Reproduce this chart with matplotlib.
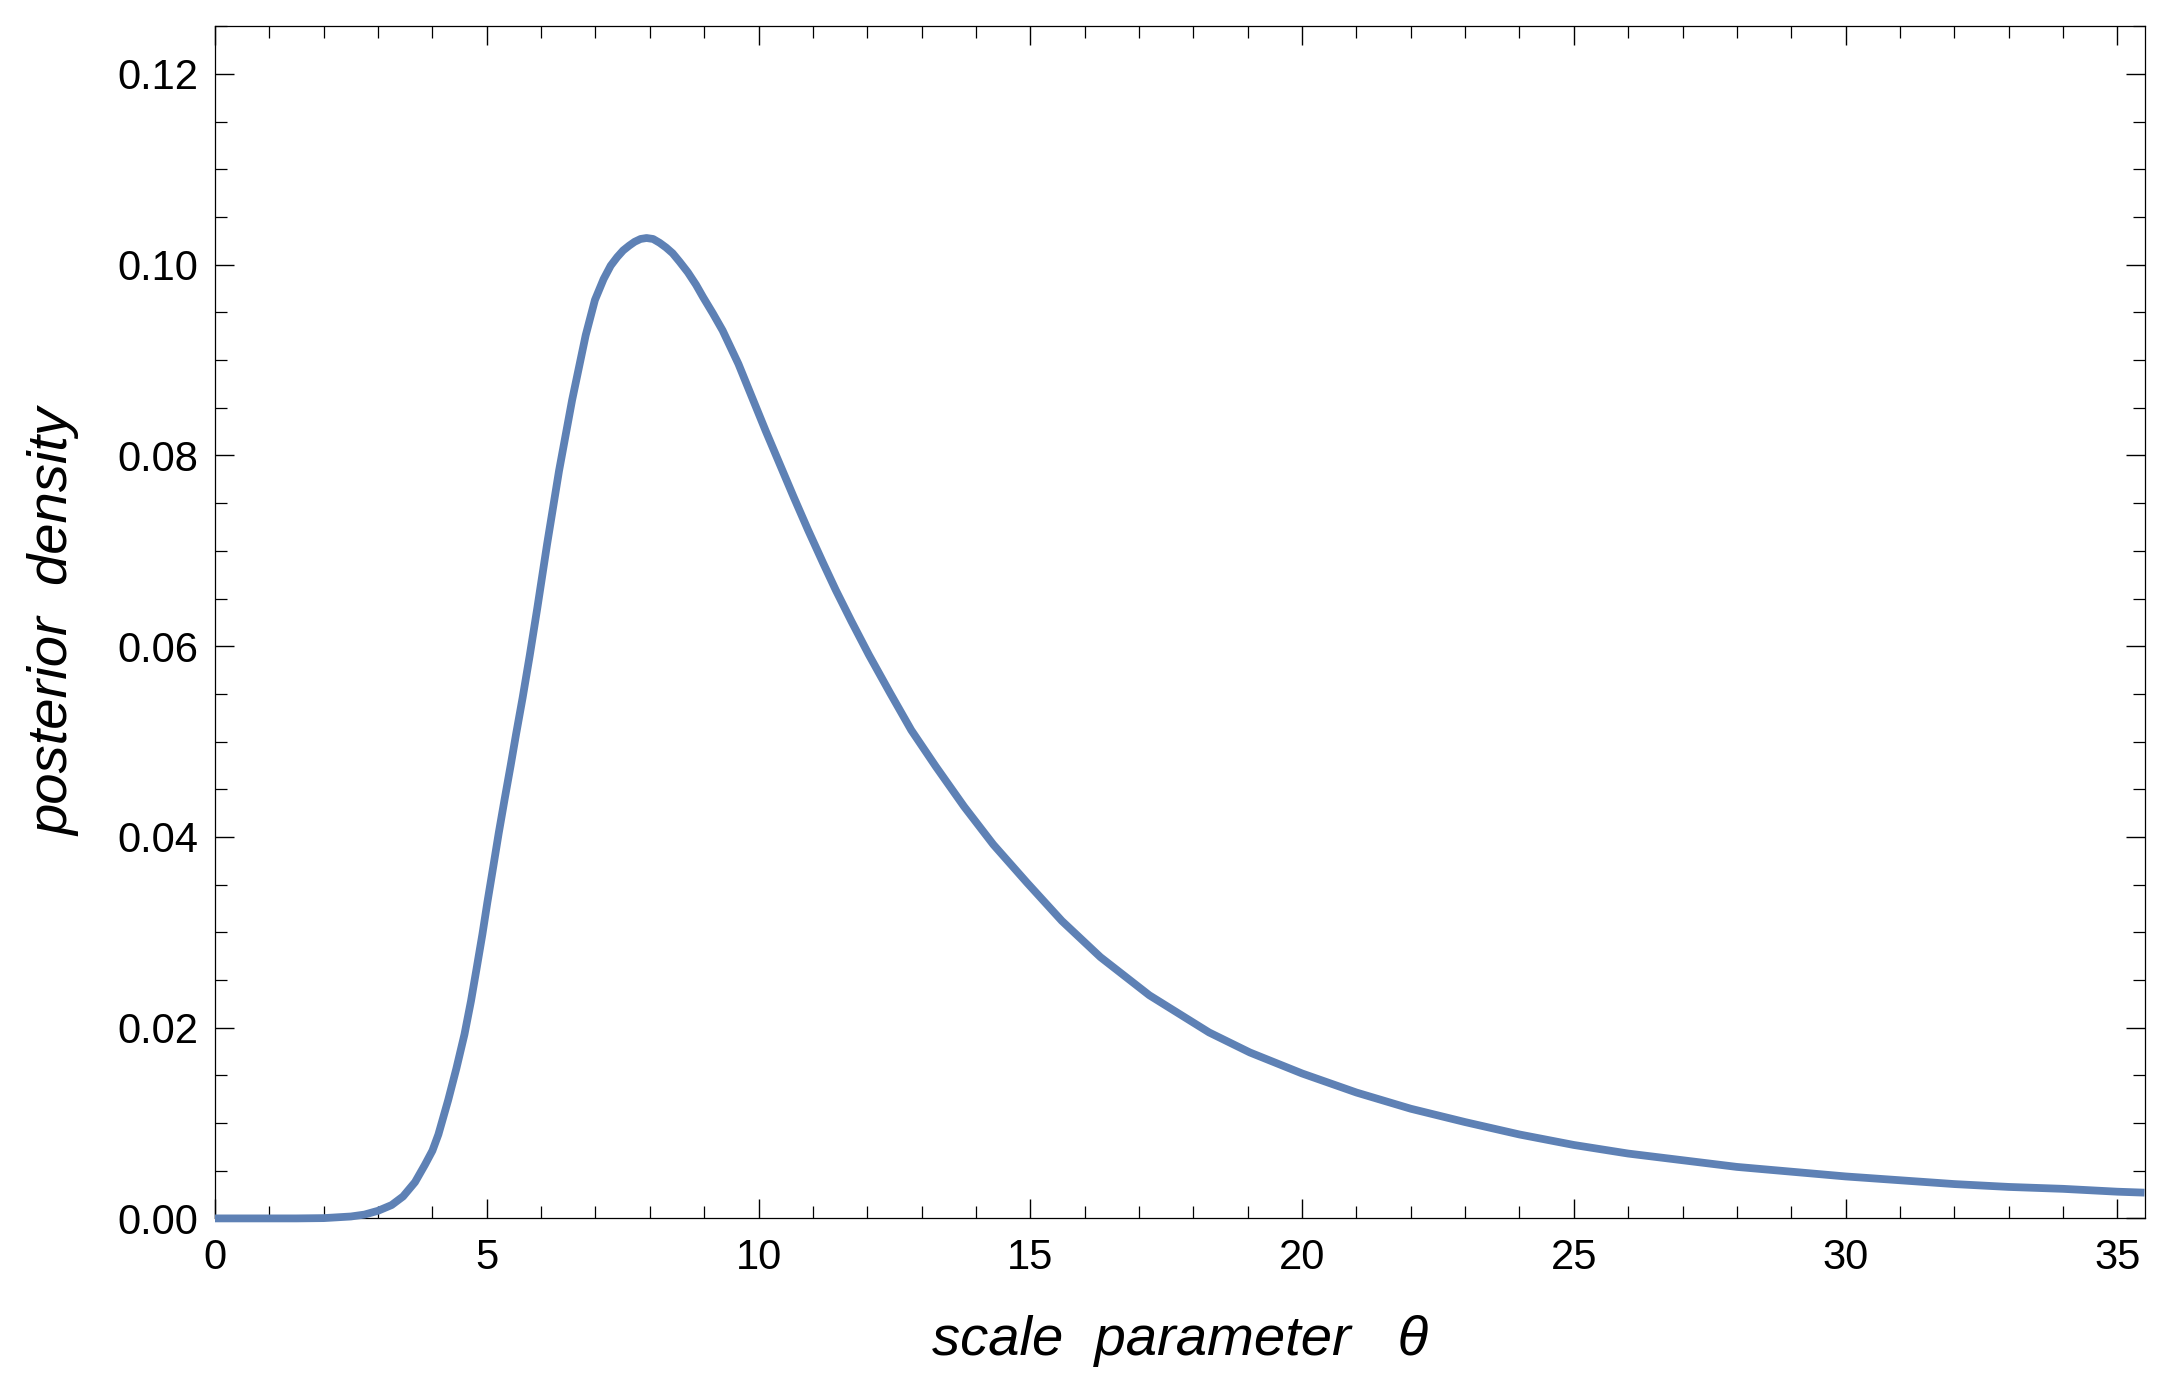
import matplotlib
matplotlib.use("Agg")
import matplotlib.pyplot as plt
from matplotlib.ticker import MultipleLocator, FormatStrFormatter

# ---- data ----
theta = [0.0, 0.5, 1.0, 1.5, 2.0, 2.5, 2.75, 3.0, 3.25, 3.46, 3.68, 3.86,
         4.0, 4.11, 4.29, 4.44, 4.59, 4.71, 4.81, 4.92, 5.01, 5.12, 5.22, 5.33,
         5.44, 5.54, 5.66, 5.79, 5.93, 6.11, 6.33, 6.57, 6.82, 6.99, 7.15,
         7.28, 7.40, 7.51, 7.62, 7.72, 7.83, 7.94, 8.06, 8.18, 8.30, 8.42,
         8.55, 8.70, 8.85, 8.98, 9.16, 9.34, 9.63, 9.88, 10.13, 10.39, 10.65,
         10.91, 11.19, 11.42, 11.71, 12.03, 12.42, 12.81, 13.26, 13.78, 14.32,
         14.94, 15.58, 16.29, 17.19, 18.29, 19.04, 20.0, 21.0, 22.0, 23.0,
         24.0, 25.0, 26.0, 27.0, 28.0, 29.0, 30.0, 31.0, 32.0, 33.0, 34.0,
         35.0, 35.5]
density = [0.0, 0.0, 0.0, 0.0, 0.00003, 0.0002, 0.0004, 0.0008, 0.0014,
           0.0023, 0.0038, 0.0056, 0.0071, 0.0088, 0.0124, 0.0157, 0.0193,
           0.0228, 0.0261, 0.0298, 0.0331, 0.0369, 0.0404, 0.0440, 0.0475,
           0.0508, 0.0546, 0.0590, 0.0640, 0.0707, 0.0784, 0.0858, 0.0926,
           0.0963, 0.0985, 0.0999, 0.1008, 0.1015, 0.1020, 0.1024, 0.1027,
           0.1028, 0.1027, 0.1023, 0.1018, 0.1012, 0.1003, 0.0992, 0.0979,
           0.0966, 0.0949, 0.0931, 0.0896, 0.0861, 0.0826, 0.0791, 0.0756,
           0.0722, 0.0687, 0.0659, 0.0626, 0.0591, 0.0551, 0.0512, 0.0474,
           0.0432, 0.0392, 0.0352, 0.0312, 0.0274, 0.0234, 0.0195, 0.0174,
           0.0152, 0.0132, 0.0115, 0.0101, 0.0088, 0.0077, 0.0068, 0.0061,
           0.0054, 0.0049, 0.0044, 0.0040, 0.0036, 0.0033, 0.0031, 0.0028,
           0.0027]

x_major = [0, 5, 10, 15, 20, 25, 30, 35]
y_major = [0.00, 0.02, 0.04, 0.06, 0.08, 0.10, 0.12]
x_label = "scale  parameter   \u03b8"
y_label = "posterior  density"

plt.rcParams['font.family'] = ['Liberation Sans', 'DejaVu Sans']

W, H = 2168, 1386
fig = plt.figure(figsize=(W / 100, H / 100), dpi=100)
ax = fig.add_axes([215 / W, (H - 1218.4) / H, (2144.5 - 215) / W, (1218.4 - 26.3) / H])

ax.plot(theta, density, color='#5E81B5', lw=5.6, clip_on=False,
        solid_joinstyle='round', solid_capstyle='butt', zorder=3)

ax.set_xlim(0, 35.5)
ax.set_ylim(0, 0.125)
ax.set_xticks(x_major)
ax.set_yticks(y_major)
ax.xaxis.set_minor_locator(MultipleLocator(1))
ax.yaxis.set_minor_locator(MultipleLocator(0.005))
ax.yaxis.set_major_formatter(FormatStrFormatter('%.2f'))

ax.tick_params(which='both', direction='in', top=True, right=True,
               color='black', labelsize=30)
ax.tick_params(which='major', length=13.9, width=1.0)
ax.tick_params(which='minor', length=8.3, width=0.9)
ax.tick_params(axis='x', which='major', pad=14)
ax.tick_params(axis='y', which='major', pad=12)
for s in ax.spines.values():
    s.set_linewidth(0.9)
    s.set_color('black')

ax.set_xlabel(x_label, fontsize=40.5, style='italic')
ax.xaxis.label.set_va('baseline')
ax.xaxis.set_label_coords(0.5, (1218.4 - 1355) / (1218.4 - 26.3))

ax.set_ylabel(y_label, fontsize=40.5, style='italic')
ax.yaxis.label.set_va('baseline')
ax.yaxis.label.set_rotation_mode('anchor')
ax.yaxis.set_label_coords((68 - 215) / (2144.5 - 215), 0.5)

fig.savefig('out.png', dpi=100, facecolor='white')
